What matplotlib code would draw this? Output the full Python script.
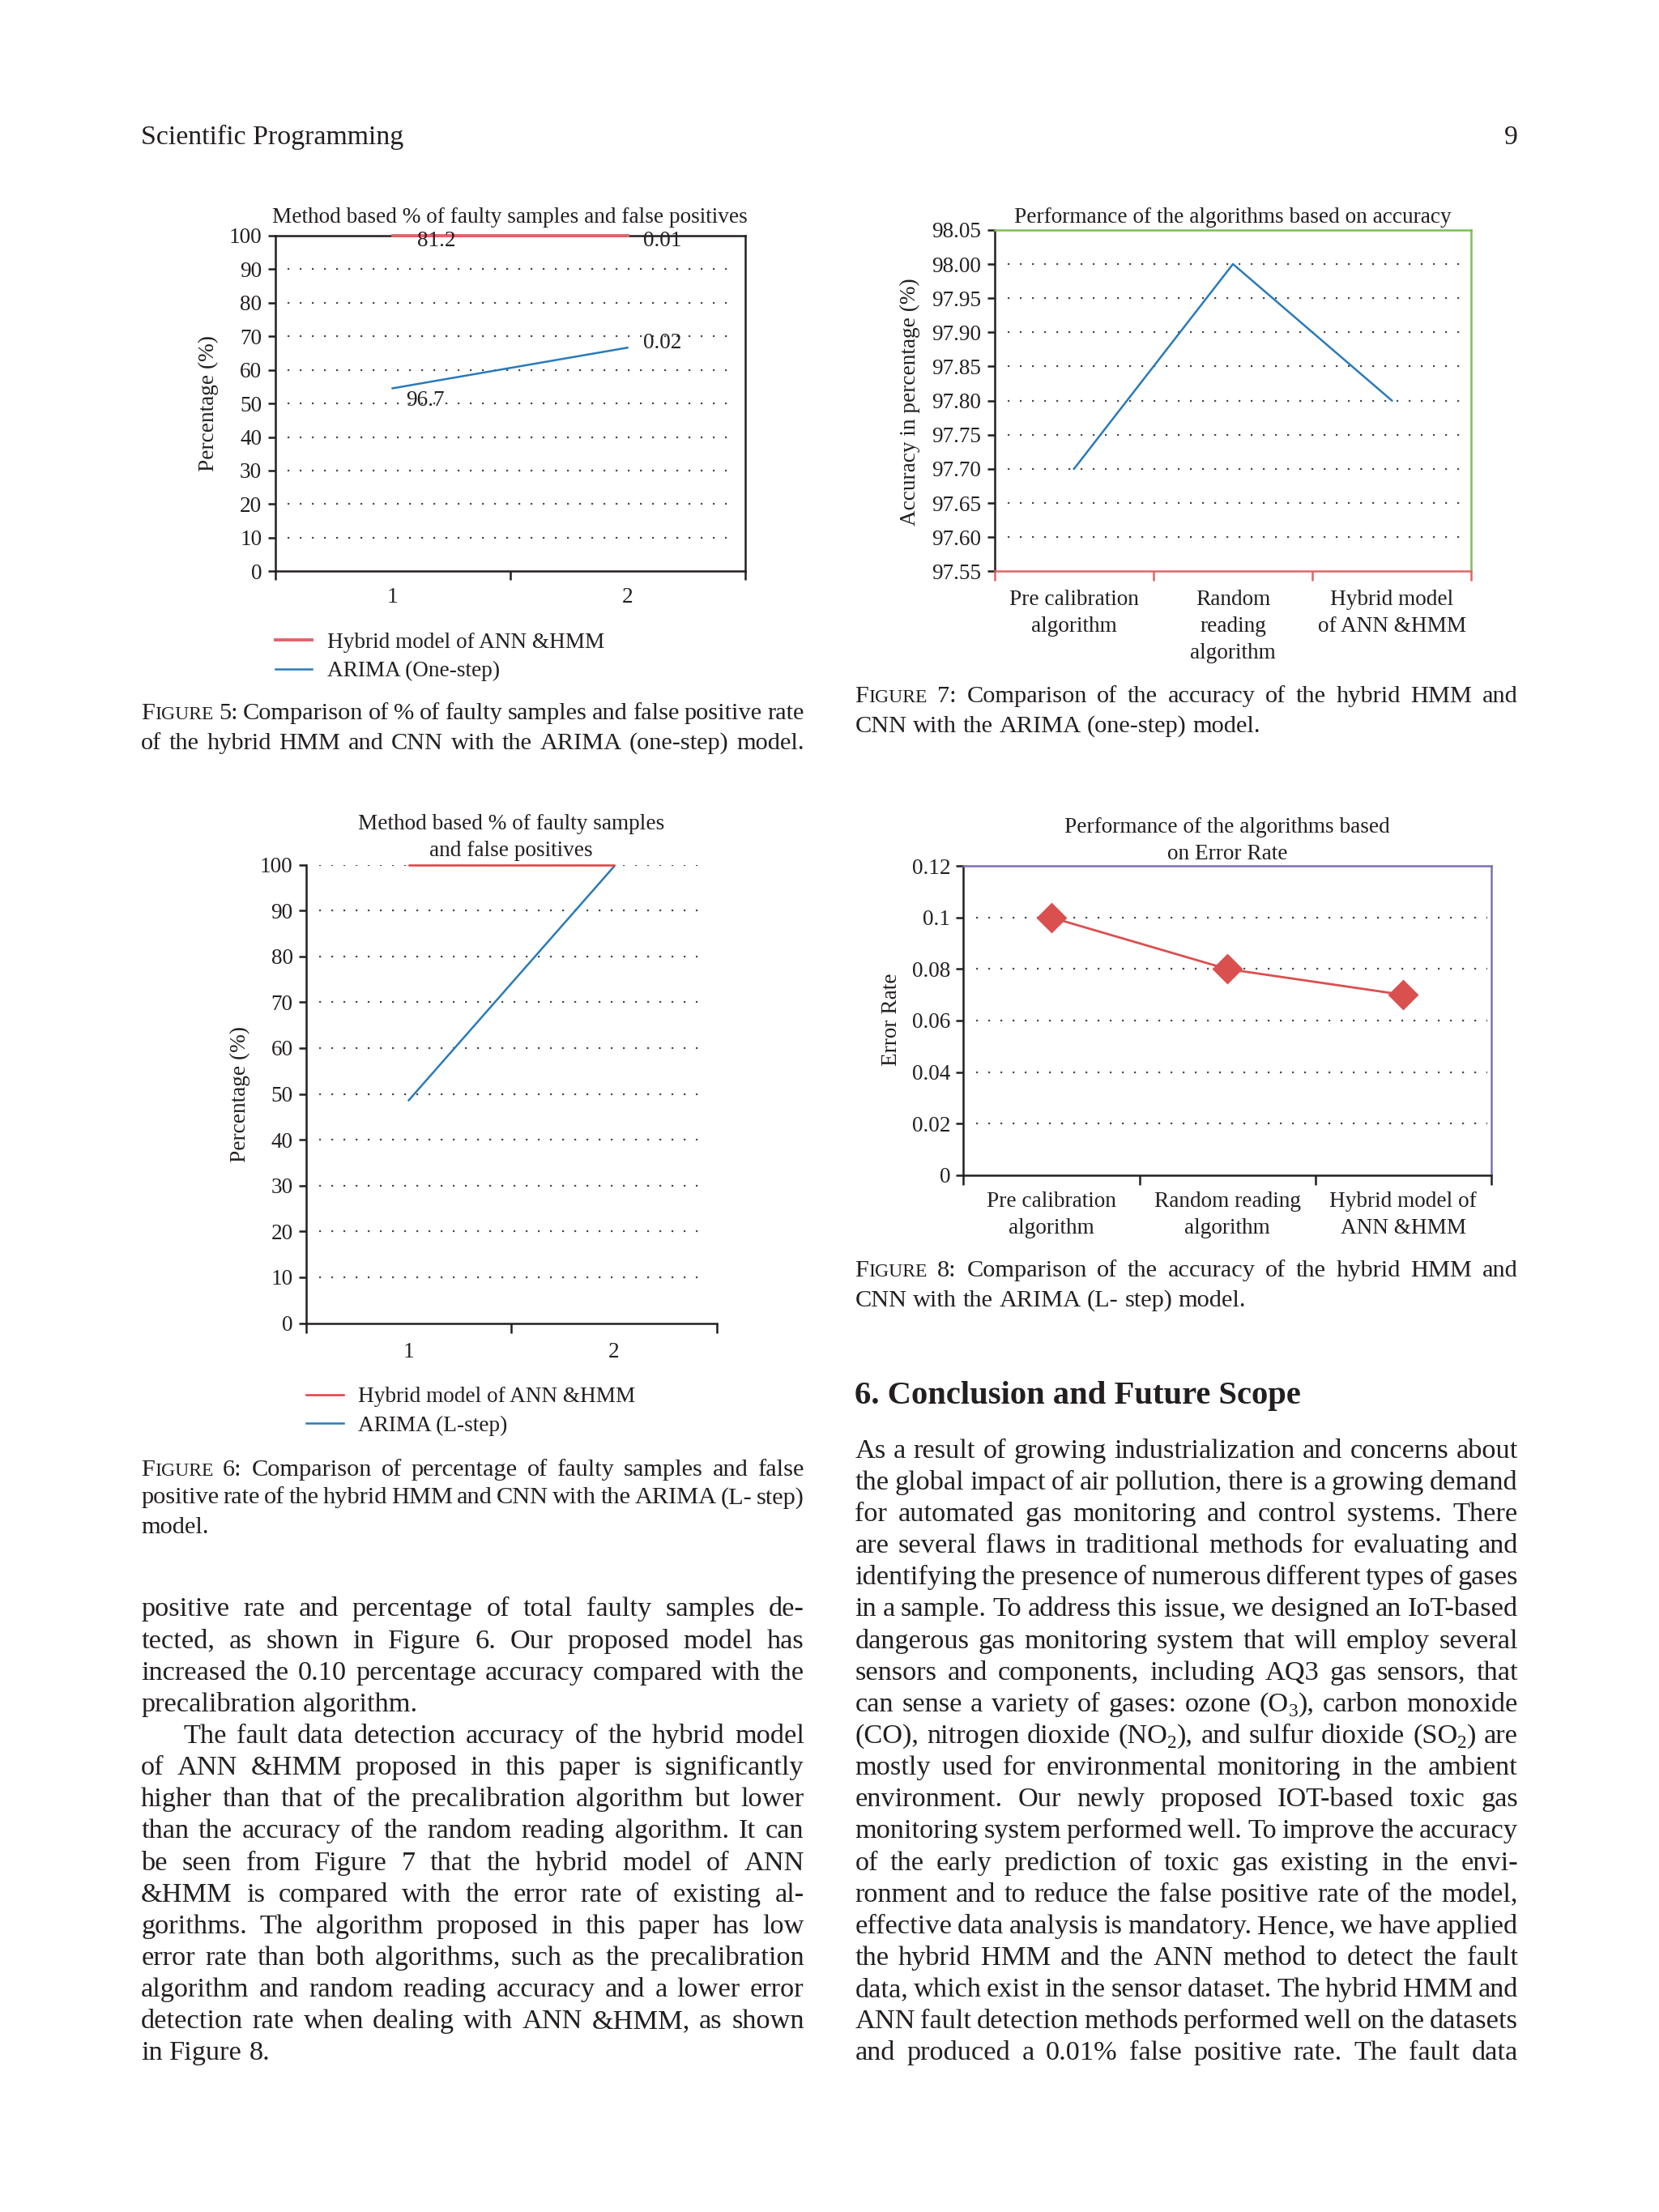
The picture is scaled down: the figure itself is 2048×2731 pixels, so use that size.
import re
import matplotlib
matplotlib.use("Agg")
import matplotlib.pyplot as plt
from matplotlib.font_manager import FontProperties

W, H, DPI = 2048, 2731, 200
S = 2048 / 1176

SERIF = ['Liberation Serif', 'DejaVu Serif']
INK = '#231f20'
BLUE = '#2a7ab8'
RED5 = '#e0646c'
RED6 = '#e8393f'
RED7 = '#e06466'
RED8 = '#d9504f'
GREEN7 = '#7dbd5b'
PURPLE8 = '#7f6fae'
DOTS = '#4a4a4a'
CH = 9.8  # chart font size

plt.rcParams['font.family'] = SERIF
plt.rcParams['text.color'] = INK
plt.rcParams['axes.labelcolor'] = INK
plt.rcParams['xtick.color'] = INK
plt.rcParams['ytick.color'] = INK
plt.rcParams['axes.edgecolor'] = INK

# ---- data -------------------------------------------------------------
fig5_x = [1, 2]
fig5_hybrid = [100, 100]
fig5_arima = [54.5, 66.6]
fig5_hybrid_lbl = ['81.2', '0.01']
fig5_arima_lbl = ['96.7', '0.02']
pct_ticks = [0, 10, 20, 30, 40, 50, 60, 70, 80, 90, 100]

fig6_x = [1, 2]
fig6_hybrid = [100, 100]
fig6_arima = [48.6, 99.6]

algos7 = ['Pre calibration\nalgorithm', 'Random\nreading\nalgorithm', 'Hybrid model\nof ANN &HMM']
fig7_acc = [97.70, 98.00, 97.80]
acc_ticks = [97.55, 97.60, 97.65, 97.70, 97.75, 97.80, 97.85, 97.90, 97.95, 98.00, 98.05]

algos8 = ['Pre calibration\nalgorithm', 'Random reading\nalgorithm', 'Hybrid model of\nANN &HMM']
fig8_err = [0.10, 0.08, 0.07]
err_ticks = [0, 0.02, 0.04, 0.06, 0.08, 0.10, 0.12]
err_tick_lbl = ['0', '0.02', '0.04', '0.06', '0.08', '0.1', '0.12']

cap5 = ['F<IGURE> 5: Comparison of % of faulty samples and false positive rate',
        'of the hybrid HMM and CNN with the ARIMA (one-step) model.']
cap6 = ['F<IGURE> 6: Comparison of percentage of faulty samples and false',
        'positive rate of the hybrid HMM and CNN with the ARIMA (L- step)',
        'model.']
cap7 = ['F<IGURE> 7: Comparison of the accuracy of the hybrid HMM and',
        'CNN with the ARIMA (one-step) model.']
cap8 = ['F<IGURE> 8: Comparison of the accuracy of the hybrid HMM and',
        'CNN with the ARIMA (L- step) model.']

left_text = [
    'positive rate and percentage of total faulty samples de-',
    'tected, as shown in Figure 6. Our proposed model has',
    'increased the 0.10 percentage accuracy compared with the',
    'precalibration algorithm.',
    'The fault data detection accuracy of the hybrid model',
    'of ANN &HMM proposed in this paper is significantly',
    'higher than that of the precalibration algorithm but lower',
    'than the accuracy of the random reading algorithm. It can',
    'be seen from Figure 7 that the hybrid model of ANN',
    '&HMM is compared with the error rate of existing al-',
    'gorithms. The algorithm proposed in this paper has low',
    'error rate than both algorithms, such as the precalibration',
    'algorithm and random reading accuracy and a lower error',
    'detection rate when dealing with ANN &HMM, as shown',
    'in Figure 8.',
]
left_last = {3, 14}
left_indent = {4}

right_text = [
    'As a result of growing industrialization and concerns about',
    'the global impact of air pollution, there is a growing demand',
    'for automated gas monitoring and control systems. There',
    'are several flaws in traditional methods for evaluating and',
    'identifying the presence of numerous different types of gases',
    'in a sample. To address this issue, we designed an IoT-based',
    'dangerous gas monitoring system that will employ several',
    'sensors and components, including AQ3 gas sensors, that',
    'can sense a variety of gases: ozone (O{3}), carbon monoxide',
    '(CO), nitrogen dioxide (NO{2}), and sulfur dioxide (SO{2}) are',
    'mostly used for environmental monitoring in the ambient',
    'environment. Our newly proposed IOT-based toxic gas',
    'monitoring system performed well. To improve the accuracy',
    'of the early prediction of toxic gas existing in the envi-',
    'ronment and to reduce the false positive rate of the model,',
    'effective data analysis is mandatory. Hence, we have applied',
    'the hybrid HMM and the ANN method to detect the fault',
    'data, which exist in the sensor dataset. The hybrid HMM and',
    'ANN fault detection methods performed well on the datasets',
    'and produced a 0.01% false positive rate. The fault data',
]

fig = plt.figure(figsize=(W / DPI, H / DPI), dpi=DPI)
renderer = fig.canvas.get_renderer()
PX = DPI / 72.0


# ---- text helpers -------------------------------------------------------
def parse_word(w):
    segs = []
    for m in re.finditer(r'\{([^}]*)\}|<([^>]*)>|([^{<]+)', w):
        if m.group(1) is not None:
            segs.append((m.group(1), 0.68, -0.17))
        elif m.group(2) is not None:
            segs.append((m.group(2), 0.78, 0.0))
        else:
            segs.append((m.group(3), 1.0, 0.0))
    return segs


def txt_w(s, size, weight='normal'):
    fp = FontProperties(family=SERIF, size=size, weight=weight)
    return renderer.get_text_width_height_descent(s, fp, ismath=False)[0]


def space_w(size, weight='normal'):
    return txt_w('n n', size, weight) - txt_w('nn', size, weight)


def word_w(segs, size, weight='normal'):
    return sum(txt_w(t, size * sc, weight) for t, sc, _ in segs)


def line_w(line, size):
    words = [parse_word(w) for w in line.split(' ')]
    return sum(word_w(p, size) for p in words) + (len(words) - 1) * space_w(size)


def fit_size(lines, width, shrink=0.8, weight='normal', base=10.0):
    sp = space_w(base, weight)
    best = 1e9
    for ln, ind in lines:
        words = [parse_word(w) for w in ln.split(' ')]
        ww = sum(word_w(p, base, weight) for p in words)
        best = min(best, base * (width - ind) / (ww + shrink * (len(words) - 1) * sp))
    return best


def put_line(line, x0, x1, y, size, justify=True, weight='normal', indent=0.0):
    words = [parse_word(w) for w in line.split(' ')]
    widths = [word_w(p, size, weight) for p in words]
    start = x0 + indent
    if justify and len(words) > 1:
        gap = (x1 - start - sum(widths)) / (len(words) - 1)
    else:
        gap = space_w(size, weight)
    x = start
    em = size * PX
    for segs, wd in zip(words, widths):
        cx = x
        for t, sc, dy in segs:
            fig.text(cx / W, 1 - (y - dy * em) / H, t, fontsize=size * sc,
                     fontweight=weight, ha='left', va='baseline')
            cx += txt_w(t, size * sc, weight)
        x += wd + gap


def fit_one(s, width, weight='normal'):
    return 10.0 * width / txt_w(s, 10.0, weight)


# ---- columns ------------------------------------------------------------
LX0, LX1 = 100 * S, 570 * S
RX0, RX1 = 606 * S, 1076 * S
LEAD = 22.47


def base_y(i):
    return (1027 + LEAD * i + 6.5) * S


body_fit = [(ln, 52 if j in left_indent else 0) for j, ln in enumerate(left_text) if j not in left_last]
body_fit += [(ln, 0) for ln in right_text]
body_size = fit_size(body_fit, LX1 - LX0, shrink=0.68)

for j, ln in enumerate(left_text):
    put_line(ln, LX0, LX1, base_y(j + 5), body_size, justify=j not in left_last,
             indent=52 if j in left_indent else 0)
for i, ln in enumerate(right_text):
    put_line(ln, RX0, RX1, base_y(i), body_size, justify=True)

caps = [(cap5, LX0, LX1, [504, 525], [True, True]),
        (cap6, LX0, LX1, [1040, 1060, 1081], [True, True, False]),
        (cap7, RX0, RX1, [492, 513], [True, False]),
        (cap8, RX0, RX1, [899, 920], [True, False])]
cap_fit = []
for lines, _, _, _, js in caps:
    cap_fit += [(ln, 0) for ln, j in zip(lines, js) if j]
# the unjustified second line of Figure 7 ends at x=906 in the preview
cap_size = 10.0 * (906 - 606) * S / line_w(cap7[1], 10.0)
cap_size = min(cap_size, fit_size(cap_fit, LX1 - LX0, shrink=0.65))
for lines, x0, x1, ys, js in caps:
    for ln, yy, j in zip(lines, ys, js):
        put_line(ln, x0, x1, (yy + 6) * S, cap_size, justify=j)

# header and section heading
hdr = 'Scientific Programming'
fig.text(LX0 / W, 1 - 102 * S / H, hdr, fontsize=fit_one(hdr, 187 * S), va='baseline', ha='left')
fig.text(RX1 / W, 1 - 102 * S / H, '9', fontsize=fit_one(hdr, 187 * S), va='baseline', ha='right')
head = '6. Conclusion and Future Scope'
fig.text(RX0 / W, 1 - 995 * S / H, head, fontsize=fit_one(head, 317 * S, 'bold'),
         fontweight='bold', va='baseline', ha='left')


# ---- chart helpers ---------------------------------------------------------
def px_axes(l, t, r, b):
    return fig.add_axes([l * S / W, 1 - b * S / H, (r - l) * S / W, (b - t) * S / H])


def dotted_grid(ax, values, x0, x1):
    for v in values:
        ax.axhline(v, x0, x1, color=DOTS, lw=0.8, ls=(0, (1, 5.75)), zorder=0.5)


def cat_axis(ax, centers, labels, pad, tick_len=4.0, tick_color=INK):
    n = len(centers)
    bounds = [c - 0.5 for c in centers] + [centers[-1] + 0.5]
    ax.set_xlim(bounds[0], bounds[-1])
    ax.set_xticks(bounds, labels=[''] * (n + 1))
    ax.set_xticks(centers, labels=labels, minor=True)
    ax.tick_params(axis='x', which='major', direction='out', length=tick_len, width=0.9,
                   color=tick_color)
    ax.tick_params(axis='x', which='minor', length=0, pad=pad, labelsize=CH)
    for t in ax.get_xticklabels(minor=True):
        t.set_linespacing(1.42)


def y_axis(ax, ticks, labels, label, lx, ly):
    ax.set_yticks(ticks, labels=labels)
    ax.set_ylim(ticks[0], ticks[-1])
    ax.tick_params(axis='y', direction='out', length=3.2, width=0.9, pad=2.7, labelsize=CH)
    ax.set_ylabel(label, fontsize=CH, va='center')
    ax.yaxis.set_label_coords(lx, ly)


def spines(ax, colors):
    for side, c in colors.items():
        if c is None:
            ax.spines[side].set_visible(False)
        else:
            ax.spines[side].set_color(c)
            ax.spines[side].set_linewidth(0.9)


def legend(ax, top):
    ax.legend(loc='upper left', bbox_to_anchor=(0, top), frameon=False, borderpad=0,
              borderaxespad=0, handlelength=1.68, handletextpad=0.68, labelspacing=0.38,
              fontsize=CH)


# ---- Figure 5 ------------------------------------------------------------
ax5 = px_axes(195, 167, 528, 405)
y_axis(ax5, pct_ticks, [str(t) for t in pct_ticks], 'Percentage (%)', -0.141, 0.5)
cat_axis(ax5, fig5_x, ['1', '2'], pad=7.0)
spines(ax5, {'left': INK, 'bottom': INK, 'top': INK, 'right': INK})
dotted_grid(ax5, pct_ticks[1:-1], 0.026, 0.979)
ax5.plot(fig5_x, fig5_hybrid, color=RED5, lw=1.4, clip_on=False, zorder=5,
         label='Hybrid model of ANN &HMM')
ax5.plot(fig5_x, fig5_arima, color=BLUE, lw=0.9, zorder=4, label='ARIMA (One-step)')
for x, y, s, off in zip(fig5_x, fig5_hybrid, fig5_hybrid_lbl, [(19.4, -2.5), (15.7, -2.5)]):
    ax5.annotate(s, (x, y), xytext=off, textcoords='offset points', ha='center', va='center',
                 fontsize=CH, zorder=6, annotation_clip=False)
for x, y, s, off in zip(fig5_x, fig5_arima, fig5_arima_lbl, [(14.4, -5.5), (15.7, 2.2)]):
    ax5.annotate(s, (x, y), xytext=off, textcoords='offset points', ha='center', va='center',
                 fontsize=CH, zorder=6)
ax5.set_title('Method based % of faulty samples and false positives', fontsize=CH,
              y=1.055, va='center', pad=0)
legend(ax5, -0.182)

# ---- Figure 7 ------------------------------------------------------------
ax7 = px_axes(705, 163, 1043, 405)
x7 = [1, 2, 3]
y_axis(ax7, acc_ticks, ['%.2f' % t for t in acc_ticks], 'Accuracy in percentage (%)', -0.1775, 0.496)
cat_axis(ax7, x7, algos7, pad=8.3, tick_len=4.4, tick_color=RED7)
spines(ax7, {'left': INK, 'bottom': RED7, 'top': GREEN7, 'right': GREEN7})
dotted_grid(ax7, acc_ticks[1:-1], 0.028, 0.991)
ax7.plot(x7, fig7_acc, color=BLUE, lw=0.9, zorder=4)
ax7.set_title('Performance of the algorithms based on accuracy', fontsize=CH,
              y=1.037, va='center', pad=0)

# ---- Figure 6 ------------------------------------------------------------
ax6 = px_axes(217, 613, 508, 938)
y_axis(ax6, pct_ticks, [str(t) for t in pct_ticks], 'Percentage (%)', -0.1615, 0.5)
cat_axis(ax6, fig6_x, ['1', '2'], pad=8.5, tick_len=4.3)
spines(ax6, {'left': INK, 'bottom': INK, 'top': None, 'right': None})
dotted_grid(ax6, pct_ticks[1:], 0.031, 0.973)
ax6.plot(fig6_x, fig6_hybrid, color=RED6, lw=0.9, clip_on=False, zorder=5,
         label='Hybrid model of ANN &HMM')
ax6.plot(fig6_x, fig6_arima, color=BLUE, lw=0.9, zorder=4, label='ARIMA (L-step)')
ax6.set_title('Method based % of faulty samples\nand false positives', fontsize=CH,
              y=1.060, va='center', pad=0, linespacing=1.42)
legend(ax6, -0.139)

# ---- Figure 8 ------------------------------------------------------------
ax8 = px_axes(683, 614, 1057, 833)
x8 = [1, 2, 3]
y_axis(ax8, err_ticks, err_tick_lbl, 'Error Rate', -0.136, 0.502)
cat_axis(ax8, x8, algos8, pad=7.2, tick_len=4.4)
spines(ax8, {'left': INK, 'bottom': INK, 'top': PURPLE8, 'right': PURPLE8})
dotted_grid(ax8, err_ticks[1:-1], 0.024, 0.992)
ax8.plot(x8, fig8_err, color=RED8, lw=1.0, marker='D', markersize=8.5, zorder=4)
ax8.set_title('Performance of the algorithms based\non Error Rate', fontsize=CH,
              y=1.083, va='center', pad=0, linespacing=1.42)

fig.savefig('out.png', dpi=DPI, facecolor='white')
